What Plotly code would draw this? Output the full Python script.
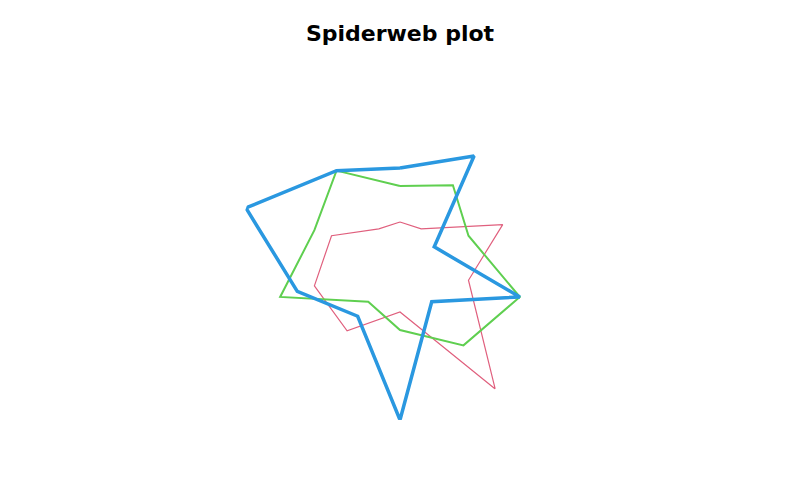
from plotly import graph_objects as go

# spokes of the web, clockwise from the top
categories = ["A", "B", "C", "D", "E", "F", "G", "H", "I", "J"]

red_values = [2, 2, 6, 4, 9, 3, 5, 5, 4, 2]
green_values = [4, 5, 4, 7, 6, 4, 3, 7, 5, 6]
blue_values = [5, 7, 2, 7, 3, 9, 4, 6, 9, 6]

series = [
    ("red", red_values, "#e0607e", 1.2),
    ("green", green_values, "#5fcf50", 2),
    ("blue", blue_values, "#2a98e0", 3.5),
]

fig = go.Figure()

for name, vals, color, width in series:
    # repeat first point so the polygon closes
    fig.add_trace(go.Scatterpolar(
        r=vals + vals[:1],
        theta=categories + categories[:1],
        mode="lines",
        name=name,
        line=dict(color=color, width=width),
    ))

fig.update_layout(
    width=784,
    height=478,
    showlegend=False,
    paper_bgcolor="white",
    plot_bgcolor="white",
    title=dict(
        text="<b>Spiderweb plot</b>",
        x=0.5,
        y=1 - 25 / 478,
        xanchor="center",
        yanchor="middle",
        font=dict(family="DejaVu Sans", size=22, color="black"),
    ),
    polar=dict(
        bgcolor="white",
        radialaxis=dict(visible=False, range=[0, 9]),
        angularaxis=dict(visible=False, direction="clockwise", rotation=90),
    ),
    margin=dict(l=80, r=80, t=88, b=66),
)

fig.write_html("out.html")
